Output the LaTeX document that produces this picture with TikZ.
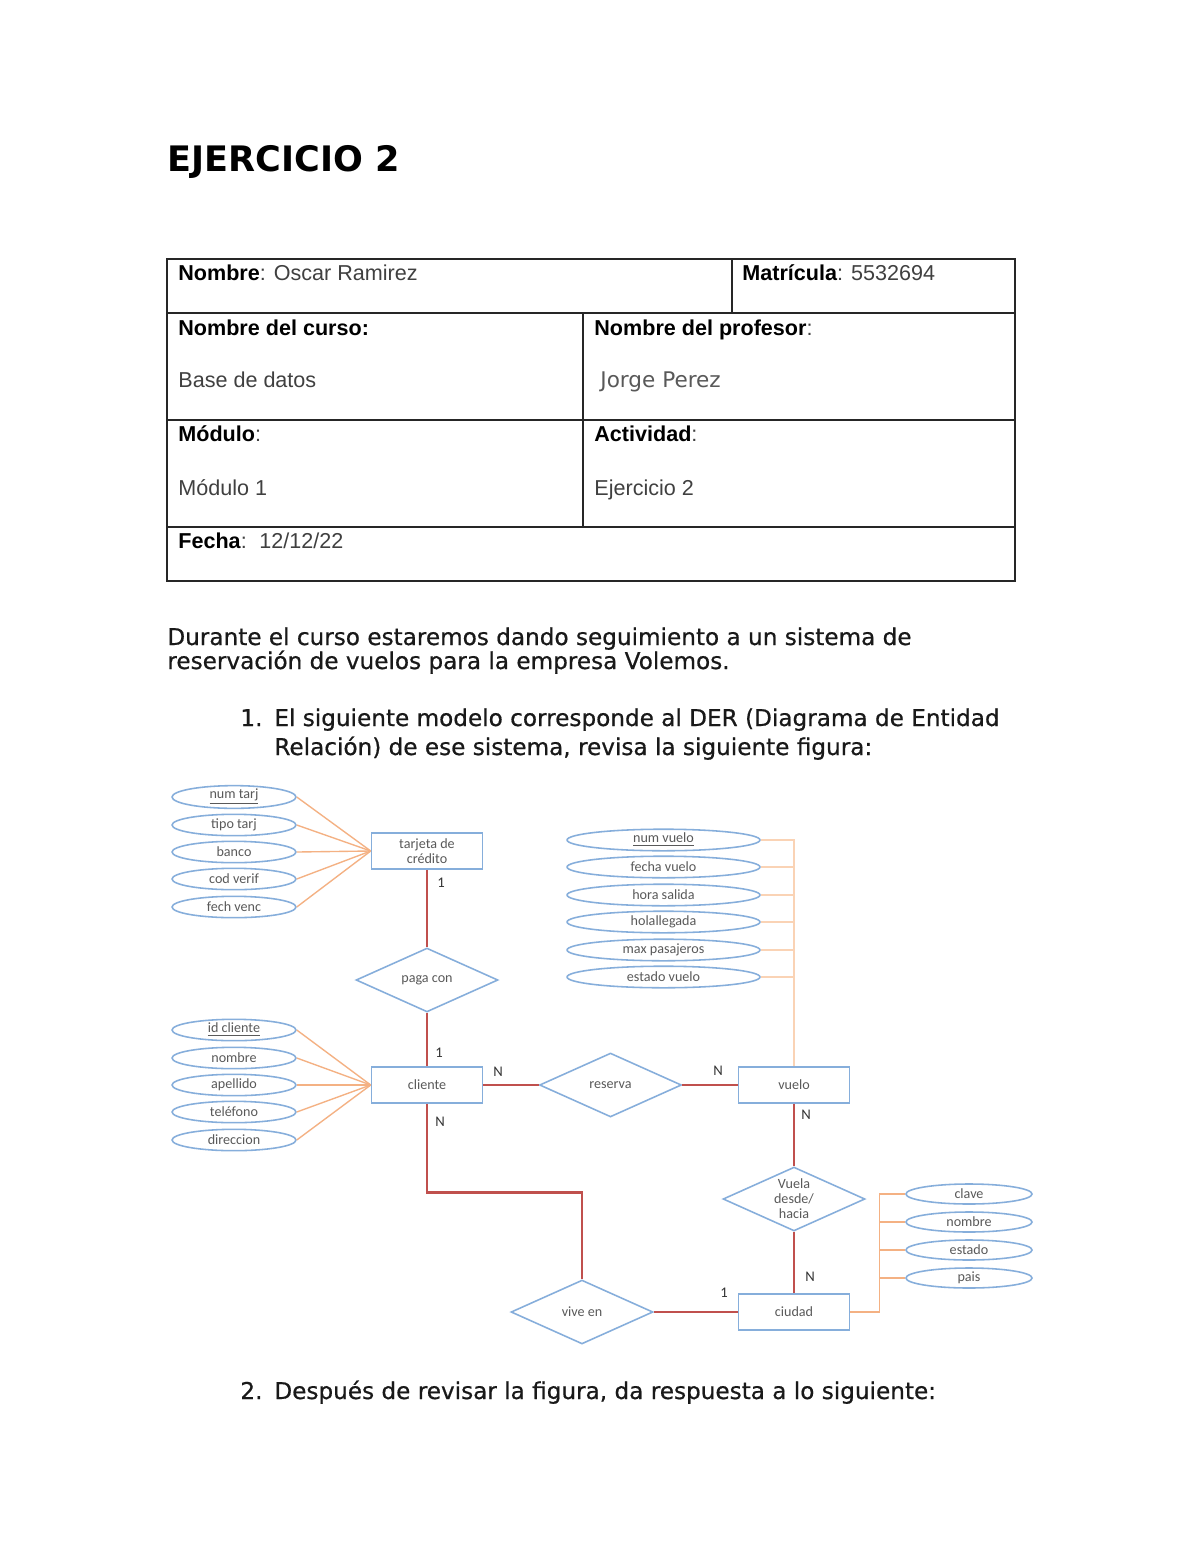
\documentclass[tikz,border=0pt]{standalone}
\usepackage{fontspec}
\setmainfont{DejaVu Sans}
\newfontfamily\arialf{Liberation Sans}
\newfontfamily\calib{Carlito}
\newfontfamily\parfont[FakeBold=0.6]{DejaVu Sans}
\usetikzlibrary{shapes.geometric,calc}
\definecolor{attrblue}{HTML}{86AEDB}
\definecolor{relred}{HTML}{C0504D}
\definecolor{attrorange}{HTML}{F4B183}
\definecolor{lightorange}{HTML}{FAD3B5}
\definecolor{dgtext}{HTML}{595959}
\definecolor{tabgray}{HTML}{404040}
\begin{document}
\begin{tikzpicture}[x=0.51pt,y=-0.51pt,
  dfont/.style={font=\calib\fontsize{7.2}{7.6}\selectfont, text=dgtext},
  attr/.style={ellipse, draw=attrblue, line width=0.8pt, inner sep=0pt, minimum width=63.2pt, minimum height=10.9pt, dfont},
  vattr/.style={attr, minimum width=98.4pt, minimum height=11pt},
  cattr/.style={attr, minimum width=64.3pt, minimum height=10.2pt},
  entity/.style={rectangle, draw=attrblue, line width=0.8pt, minimum width=56.6pt, minimum height=18.4pt, inner sep=0pt, align=center, dfont},
  rel/.style={diamond, draw=attrblue, line width=0.8pt, minimum width=72.4pt, minimum height=32.6pt, inner sep=0pt},
  rlbl/.style={dfont, align=center, inner sep=0pt},
  relline/.style={draw=relred, line width=1.4pt},
  attrline/.style={draw=attrorange, line width=0.7pt},
  lightline/.style={draw=lightorange, line width=0.7pt},
  card/.style={font=\calib\fontsize{7.5}{8}\selectfont, text=black!80, inner sep=0pt},
  tabtxt/.style={anchor=base west, inner sep=0pt, font=\arialf\fontsize{11}{13}\selectfont, text=tabgray},
  ptxt/.style={anchor=base west, inner sep=0pt, font=\parfont\fontsize{11.8}{12.2}\selectfont, text=black!90},
  tabline/.style={draw=black!85, line width=0.75pt}
]
\fill[white] (0,0) rectangle (1200,1553);
\useasboundingbox (0,0) rectangle (1200,1553);

% Title
\node[anchor=base west, inner sep=0pt, font=\bfseries\fontsize{17.9}{22}\selectfont] (title) at (167,172) {EJERCICIO 2};

% Table
\draw[tabline] (167,259) rectangle (1015,581);
\draw[tabline] (167,313) -- (1015,313);
\draw[tabline] (167,420) -- (1015,420);
\draw[tabline] (167,527) -- (1015,527);
\draw[tabline] (732,259) -- (732,313);
\draw[tabline] (583,313) -- (583,527);

\node[tabtxt] (nom) at (178,280) {\textcolor{black}{\textbf{Nombre}}: Oscar Ramirez};
\node[tabtxt] (mat) at (742,280) {\textcolor{black}{\textbf{Matrícula}}: 5532694};
\node[tabtxt] (cur) at (178,335) {\textcolor{black}{\textbf{Nombre del curso:}}};
\node[tabtxt] (bdd) at (178,387) {Base de datos};
\node[tabtxt] (prof) at (594,335) {\textcolor{black}{\textbf{Nombre del profesor}}:};
\node[anchor=base west, inner sep=0pt, font=\fontsize{11}{13}\selectfont, text=dgtext] (jp) at (600,387) {Jorge Perez};
\node[tabtxt] (mod) at (178,441) {\textcolor{black}{\textbf{Módulo}}:};
\node[tabtxt] (mod1) at (178,495) {Módulo 1};
\node[tabtxt] (act) at (594,441) {\textcolor{black}{\textbf{Actividad}}:};
\node[tabtxt] (ej2) at (594,495) {Ejercicio 2};
\node[tabtxt] (fec) at (178,548) {\textcolor{black}{\textbf{Fecha}}:};
\node[tabtxt] (fd) at (259,548) {12/12/22};

% Paragraphs
\node[ptxt] (p1) at (167,645) {Durante el curso estaremos dando seguimiento a un sistema de};
\node[ptxt] (p2) at (167,669) {reservación de vuelos para la empresa Volemos.};
\node[ptxt] (n1) at (240,726) {1.};
\node[ptxt] (l1) at (274,726) {El siguiente modelo corresponde al DER (Diagrama de Entidad};
\node[ptxt] (l2) at (274,755) {Relación) de ese sistema, revisa la siguiente figura:};
\node[ptxt] (n2) at (240,1399) {2.};
\node[ptxt] (l3) at (274,1399) {Después de revisar la figura, da respuesta a lo siguiente:};

% ---- ER diagram ----
% tarjeta de credito
\node[attr] (nt) at (234,797) {\underline{num tarj}};
\node[attr] (tt) at (234,825) {tipo tarj};
\node[attr] (bc) at (234,852) {banco};
\node[attr] (cv) at (234,879) {cod verif};
\node[attr] (fv) at (234,907) {fech venc};
\node[entity] (tarj) at (427,851) {tarjeta de\\crédito};
\foreach \a in {nt,tt,bc,cv,fv} \draw[attrline] (\a.east) -- (tarj.west);

\node[rel, label={[rlbl]center:paga con}] (paga) at (427,980) {};

% cliente
\node[attr] (ic) at (234,1030) {\underline{id cliente}};
\node[attr] (cn) at (234,1058) {nombre};
\node[attr] (ca) at (234,1085) {apellido};
\node[attr] (ct) at (234,1112) {teléfono};
\node[attr] (cd) at (234,1140) {direccion};
\node[entity] (cli) at (427,1085) {cliente};
\foreach \a in {ic,cn,ca,ct,cd} \draw[attrline] (\a.east) -- (cli.west);

\draw[relline] (tarj.south) -- (paga.north);
\draw[relline] (paga.south) -- (cli.north);

% reserva / vuelo
\node[rel, label={[rlbl]center:reserva}] (res) at (610.5,1085) {};
\node[entity] (vue) at (794,1085) {vuelo};
\draw[relline] (cli.east) -- (res.west);
\draw[relline] (res.east) -- (vue.west);

\node[vattr] (v1) at (663.5,840) {\underline{num vuelo}};
\node[vattr] (v2) at (663.5,867) {fecha vuelo};
\node[vattr] (v3) at (663.5,895) {hora salida};
\node[vattr] (v4) at (663.5,922) {holallegada};
\node[vattr] (v5) at (663.5,950) {max pasajeros};
\node[vattr] (v6) at (663.5,977) {estado vuelo};
\draw[lightline] (v1.east) -| (vue.north);
\foreach \v in {v2,v3,v4,v5,v6} \draw[lightline] (\v.east) -- (\v.east -| vue.north);

% vuela desde/hacia, ciudad
\node[rel, label={[rlbl]center:{Vuela\\desde/\\hacia}}] (vdh) at (794,1199) {};
\node[entity] (ciu) at (794,1312) {ciudad};
\draw[relline] (vue.south) -- (vdh.north);
\draw[relline] (vdh.south) -- (ciu.north);

\node[cattr] (k1) at (969,1194) {clave};
\node[cattr] (k2) at (969,1222) {nombre};
\node[cattr] (k3) at (969,1250) {estado};
\node[cattr] (k4) at (969,1278) {pais};
\coordinate (cbus) at ($(ciu.east)+(29,0)$);
\draw[attrline] (ciu.east) -- (cbus) |- (k1.west);
\foreach \k in {k2,k3,k4} \draw[attrline] (cbus) |- (\k.west);

% vive en
\node[rel, label={[rlbl]center:vive en}] (viv) at (582,1312) {};
\draw[relline] (cli.south) -- ++(0,89) -| (viv.north);
\draw[relline] (viv.east) -- (ciu.west);

% cardinalities
\node[card] (c1) at (441,883) {1};
\node[card] (c2) at (439,1053) {1};
\node[card] (c3) at (498,1072) {N};
\node[card] (c4) at (718,1071) {N};
\node[card] (c5) at (440,1122) {N};
\node[card] (c6) at (806,1115) {N};
\node[card] (c7) at (810,1277) {N};
\node[card] (c8) at (724,1293) {1};
\end{tikzpicture}
\end{document}
